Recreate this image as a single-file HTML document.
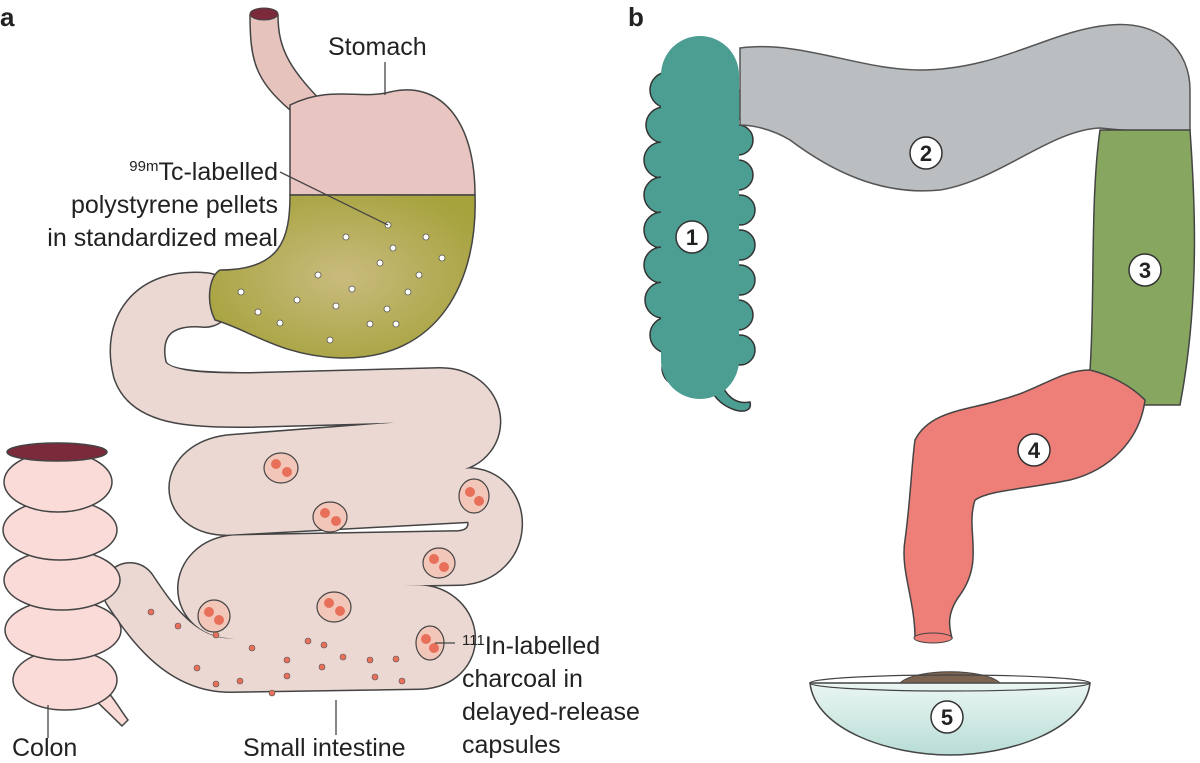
<!DOCTYPE html>
<html><head><meta charset="utf-8"><style>
html,body{margin:0;padding:0;background:#fff;}
svg{display:block;font-family:"Liberation Sans",sans-serif;}
</style></head><body>
<svg width="1200" height="763" viewBox="0 0 1200 763">
<defs>
<radialGradient id="ol" cx="0.5" cy="0.5" r="0.6"><stop offset="0" stop-color="#c9bb7e"/><stop offset="1" stop-color="#a6a23c"/></radialGradient>
<linearGradient id="bw" x1="0" y1="0" x2="0" y2="1"><stop offset="0" stop-color="#eaf6f3"/><stop offset="1" stop-color="#b8ddd6"/></linearGradient>
</defs>
<text x="0" y="26" font-size="26" font-weight="bold" fill="#222">a</text>
<text x="628" y="26" font-size="26" font-weight="bold" fill="#222">b</text>

<g fill="none" stroke-linecap="round" stroke-linejoin="round">
<path d="M205 300 C150 295 130 330 140 370 C150 400 200 400 250 400 L440 395 C480 395 485 440 450 445 L230 462 C185 468 185 510 230 508 L470 495 C505 498 505 555 460 558 L235 562 C195 566 195 612 235 612 L420 612 C455 615 460 660 420 662 L230 665 C180 665 150 620 130 590" stroke="#444" stroke-width="56"/>
<path d="M205 300 C150 295 130 330 140 370 C150 400 200 400 250 400 L440 395 C480 395 485 440 450 445 L230 462 C185 468 185 510 230 508 L470 495 C505 498 505 555 460 558 L235 562 C195 566 195 612 235 612 L420 612 C455 615 460 660 420 662 L230 665 C180 665 150 620 130 590" stroke="#ebd8d3" stroke-width="53"/>
</g>
<path d="M250 15 C250 60 255 80 290 110 L330 110 C290 70 278 50 278 15 Z" fill="#e6c3bd" stroke="#444" stroke-width="1.5"/>
<ellipse cx="264" cy="14" rx="14" ry="6" fill="#7a2a3a" stroke="#444"/>
<path d="M290 105 C330 85 360 100 390 92 C440 80 475 120 475 195 L290 195 Z" fill="#e8c5c0" stroke="#444" stroke-width="1.5"/>
<path d="M290 195 L475 195 C478 280 440 360 340 358 C280 356 250 330 215 320 C205 300 210 275 220 270 C280 270 290 240 290 195 Z" fill="url(#ol)" stroke="#444" stroke-width="1.5"/>
<g fill="#fff" stroke="#555" stroke-width="0.8">
<circle cx="388" cy="225" r="3"/><circle cx="346" cy="237" r="3"/><circle cx="426" cy="237" r="3"/><circle cx="393" cy="248" r="3"/><circle cx="442" cy="258" r="3"/><circle cx="380" cy="263" r="3"/><circle cx="318" cy="275" r="3"/><circle cx="419" cy="275" r="3"/><circle cx="241" cy="292" r="3"/><circle cx="352" cy="289" r="3"/><circle cx="408" cy="292" r="3"/><circle cx="297" cy="300" r="3"/><circle cx="336" cy="306" r="3"/><circle cx="387" cy="309" r="3"/><circle cx="258" cy="312" r="3"/><circle cx="370" cy="324" r="3"/><circle cx="280" cy="323" r="3"/><circle cx="396" cy="324" r="3"/><circle cx="330" cy="340" r="3"/>
</g>
<g fill="#f2c6b9" stroke="#444" stroke-width="1.2">
<ellipse cx="281" cy="468" rx="17" ry="15"/><ellipse cx="330" cy="517" rx="17" ry="15"/><ellipse cx="474" cy="496" rx="15" ry="17"/><ellipse cx="439" cy="563" rx="16" ry="15"/><ellipse cx="214" cy="616" rx="16" ry="16"/><ellipse cx="334" cy="607" rx="17" ry="15"/><ellipse cx="430" cy="643" rx="14" ry="17"/>
</g>
<g fill="#e8705a">
<circle cx="276" cy="464" r="5"/><circle cx="287" cy="472" r="5"/><circle cx="325" cy="513" r="5"/><circle cx="336" cy="521" r="5"/><circle cx="470" cy="492" r="5"/><circle cx="479" cy="501" r="5"/><circle cx="434" cy="559" r="5"/><circle cx="444" cy="567" r="5"/><circle cx="209" cy="612" r="5"/><circle cx="219" cy="620" r="5"/><circle cx="329" cy="603" r="5"/><circle cx="340" cy="611" r="5"/><circle cx="426" cy="639" r="5"/><circle cx="434" cy="648" r="5"/>
</g>
<g fill="#e8705a" stroke="#555" stroke-width="0.6">
<circle cx="151" cy="612" r="3"/><circle cx="178" cy="626" r="3"/><circle cx="216" cy="635" r="3"/><circle cx="252" cy="648" r="3"/><circle cx="287" cy="660" r="3"/><circle cx="308" cy="641" r="3"/><circle cx="287" cy="676" r="3"/><circle cx="324" cy="645" r="3"/><circle cx="322" cy="667" r="3"/><circle cx="343" cy="657" r="3"/><circle cx="370" cy="660" r="3"/><circle cx="396" cy="659" r="3"/><circle cx="375" cy="677" r="3"/><circle cx="402" cy="681" r="3"/><circle cx="197" cy="668" r="3"/><circle cx="240" cy="681" r="3"/><circle cx="272" cy="693" r="3"/><circle cx="216" cy="684" r="3"/>
</g>
<g fill="#fadbd8" stroke="#444" stroke-width="1.5">
<path d="M95 680 C110 690 120 710 128 720 L122 726 C110 714 95 700 85 690 Z"/>
<ellipse cx="65" cy="680" rx="52" ry="30"/>
<ellipse cx="63" cy="630" rx="58" ry="30"/>
<ellipse cx="62" cy="580" rx="58" ry="30"/>
<ellipse cx="60" cy="530" rx="57" ry="30"/>
<ellipse cx="58" cy="482" rx="54" ry="30"/>
<ellipse cx="57" cy="452" rx="50" ry="9" fill="#7a2a3a"/>
</g>
<g stroke="#444" stroke-width="1.3">
<line x1="385" y1="62" x2="385" y2="95"/>
<line x1="280" y1="172" x2="388" y2="225"/>
<line x1="435" y1="643" x2="455" y2="643"/>
<line x1="336" y1="700" x2="336" y2="735"/>
<line x1="48" y1="705" x2="48" y2="738"/>
</g>
<g font-size="25" fill="#222">
<text x="328" y="55">Stomach</text>
<text x="278" y="180" text-anchor="end"><tspan font-size="15" dy="-9">99m</tspan><tspan dy="9">Tc-labelled</tspan></text>
<text x="278" y="213" text-anchor="end">polystyrene pellets</text>
<text x="278" y="246" text-anchor="end">in standardized meal</text>
<text x="462" y="654"><tspan font-size="15" dy="-9">111</tspan><tspan dy="9">In-labelled</tspan></text>
<text x="462" y="687">charcoal in</text>
<text x="462" y="720">delayed-release</text>
<text x="462" y="753">capsules</text>
<text x="12" y="756">Colon</text>
<text x="243" y="756">Small intestine</text>
</g>

<!-- panel b -->
<g fill="#4d9e92" stroke="#333" stroke-width="1.5">
<circle cx="668" cy="90" r="18"/><circle cx="664" cy="125" r="18"/><circle cx="662" cy="160" r="18"/><circle cx="662" cy="195" r="18"/><circle cx="662" cy="230" r="18"/><circle cx="662" cy="265" r="18"/><circle cx="663" cy="300" r="18"/><circle cx="668" cy="335" r="18"/><circle cx="680" cy="368" r="18"/>
<circle cx="735" cy="105" r="15"/><circle cx="738" cy="140" r="15"/><circle cx="738" cy="175" r="15"/><circle cx="740" cy="210" r="15"/><circle cx="740" cy="245" r="15"/><circle cx="740" cy="280" r="15"/><circle cx="738" cy="315" r="15"/><circle cx="740" cy="350" r="15"/>
<path d="M720 380 C725 395 735 405 750 402 C752 410 745 413 735 410 C720 405 712 395 710 385 Z"/>
</g>
<g fill="none" stroke-linecap="round" stroke-linejoin="round">
<path d="M700 75 L700 360" stroke="#4d9e92" stroke-width="78"/>
</g>
<path d="M740 48 C800 40 860 70 920 70 C1000 70 1050 30 1110 25 C1160 20 1190 50 1190 90 L1190 130 C1170 135 1120 130 1100 128 C1050 130 1000 180 940 190 C880 196 830 170 790 140 C770 128 750 125 740 125 Z" fill="#babec0" stroke="#555" stroke-width="1.5"/>
<path d="M1100 130 L1190 130 C1195 200 1200 300 1180 405 L1140 405 C1110 380 1090 375 1090 370 C1095 300 1090 200 1100 130 Z" fill="#87a65f" stroke="#444" stroke-width="1.5"/>
<path d="M1090 370 C1110 375 1130 385 1145 400 C1140 440 1110 470 1070 480 C1020 490 990 490 975 500 C965 530 985 560 960 595 C945 615 950 630 952 638 L915 638 C915 600 900 570 905 540 C910 505 912 460 915 440 C930 410 970 410 1000 400 C1040 390 1060 370 1090 370 Z" fill="#ee7f78" stroke="#444" stroke-width="1.5"/>
<ellipse cx="933" cy="638" rx="19" ry="5" fill="#ee7f78" stroke="#444"/>
<path d="M810 683 L1090 683 C1085 730 1010 755 950 755 C890 755 815 730 810 683 Z" fill="url(#bw)" stroke="#444" stroke-width="1.5"/>
<path d="M900 683 C915 668 985 668 1000 683 Z" fill="#7d6451" stroke="#444"/>
<ellipse cx="950" cy="683" rx="140" ry="8" fill="none" stroke="#444" stroke-width="1.2"/>
<g fill="#fff" stroke="#333" stroke-width="1.5">
<circle cx="692" cy="237" r="16"/><circle cx="926" cy="153" r="16"/><circle cx="1145" cy="270" r="16"/><circle cx="1034" cy="450" r="16"/><circle cx="947" cy="717" r="16"/>
</g>
<g font-size="22" font-weight="bold" fill="#222" text-anchor="middle">
<text x="692" y="245">1</text><text x="926" y="161">2</text><text x="1145" y="278">3</text><text x="1034" y="458">4</text><text x="947" y="725">5</text>
</g>
</svg>
</body></html>
